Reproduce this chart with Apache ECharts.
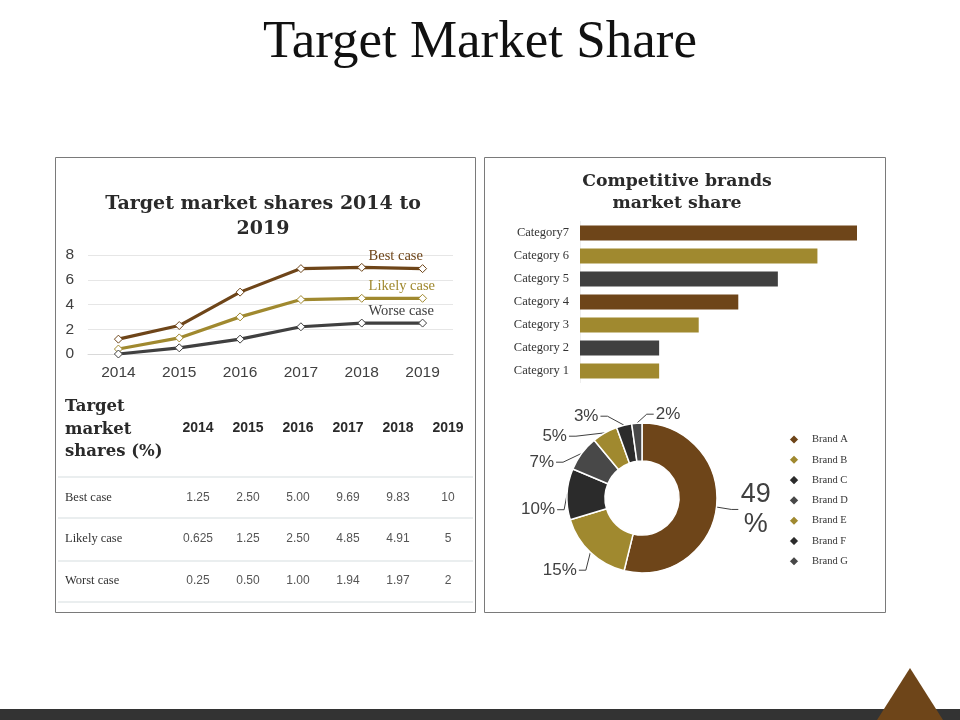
<!DOCTYPE html>
<html><head><meta charset="utf-8">
<script src="https://cdn.jsdelivr.net/npm/echarts@6/dist/echarts.min.js"></script>
<style>html,body{margin:0;padding:0;background:#fff}#c{width:960px;height:720px}</style>
</head><body><div id="c"></div>
<script>
// ---- data ----
var years = ['2014', '2015', '2016', '2017', '2018', '2019'];
var bestCase = [1.2, 2.3, 5.0, 6.9, 7.0, 6.9];
var likelyCase = [0.4, 1.3, 3.0, 4.4, 4.5, 4.5];
var worseCase = [0, 0.5, 1.2, 2.2, 2.5, 2.5];
var lineNames = ['Best case', 'Likely case', 'Worse case'];

var tableTitle = ['Target', 'market', 'shares (%)'];
var tableRowNames = ['Best case', 'Likely case', 'Worst case'];
var tableBest = ['1.25', '2.50', '5.00', '9.69', '9.83', '10'];
var tableLikely = ['0.625', '1.25', '2.50', '4.85', '4.91', '5'];
var tableWorst = ['0.25', '0.50', '1.00', '1.94', '1.97', '2'];

var barCategories = ['Category 1', 'Category 2', 'Category 3', 'Category 4', 'Category 5', 'Category 6', 'Category7'];
var barValues = [2, 2, 3, 4, 5, 6, 7];

var brands = ['Brand A', 'Brand B', 'Brand C', 'Brand D', 'Brand E', 'Brand F', 'Brand G'];
var brandShares = [49, 15, 10, 7, 5, 3, 2];

// ---- styles ----
var BROWN = '#6E4519', GOLD = '#A0892F', DARK = '#404040';
var lineColors = [BROWN, GOLD, DARK];
var barColors = [GOLD, DARK, GOLD, BROWN, DARK, GOLD, BROWN];
var pieColors = [BROWN, GOLD, '#2B2B2B', '#484848', GOLD, '#2B2B2B', '#484848'];
// label nudges (dx, dy) for pie labels, per slice
var pieLabelShift = [[-7, 0], [5, 12], [4, 16], [-1, -10], [3, -17], [18, -18], [57, -1]];
var BSERIF = '"DejaVu Serif", serif';
var TSERIF = '"Liberation Serif", serif';
var SANS = '"Liberation Sans", Arial, sans-serif';

var chart = echarts.init(document.getElementById('c'), null, {renderer: 'canvas'});

var graphics = [];
graphics.push({type: 'text', left: 'center', top: 17, style: {text: 'Target Market Share', font: '53px ' + TSERIF, fill: '#111'}});
graphics.push({type: 'rect', shape: {x: 55.5, y: 157.5, width: 420, height: 455}, style: {fill: 'none', stroke: '#7a7a7a', lineWidth: 1}});
graphics.push({type: 'rect', shape: {x: 484.5, y: 157.5, width: 401, height: 455}, style: {fill: 'none', stroke: '#7a7a7a', lineWidth: 1}});
graphics.push({type: 'rect', shape: {x: 0, y: 709, width: 960, height: 11}, style: {fill: '#333333'}});
graphics.push({type: 'polygon', shape: {points: [[910, 668], [943, 720], [877, 720]]}, style: {fill: BROWN}});

// table
tableTitle.forEach(function (t, i) {
  graphics.push({type: 'text', x: 65, y: 407 + i * 22.5, style: {text: t, font: 'bold 16.5px ' + BSERIF, fill: '#2a2a2a', textVerticalAlign: 'middle'}});
});
var colX = [198, 248, 298, 348, 398, 448];
years.forEach(function (y, i) {
  graphics.push({type: 'text', x: colX[i], y: 428, style: {text: y, font: 'bold 14px ' + SANS, fill: '#2a2a2a', textAlign: 'center', textVerticalAlign: 'middle'}});
});
[477, 518, 561, 602].forEach(function (yy) {
  graphics.push({type: 'line', shape: {x1: 58, y1: yy, x2: 473, y2: yy}, style: {stroke: '#e3e8ea', lineWidth: 1.5}});
});
var tableRows = [tableBest, tableLikely, tableWorst];
var rowY = [498, 539, 581];
tableRowNames.forEach(function (n, r) {
  graphics.push({type: 'text', x: 65, y: rowY[r], style: {text: n, font: '12.5px ' + TSERIF, fill: '#333', textVerticalAlign: 'middle'}});
  tableRows[r].forEach(function (v, i) {
    graphics.push({type: 'text', x: colX[i], y: rowY[r], style: {text: v, font: '12px ' + SANS, fill: '#555', textAlign: 'center', textVerticalAlign: 'middle'}});
  });
});

function lineSeries(name, data, color) {
  return {
    type: 'line', name: name, xAxisIndex: 0, yAxisIndex: 0,
    data: data.map(function (v, i) {
      if (i === data.length - 1) {
        return {value: v, label: {show: true, formatter: name, position: 'top', align: 'left', offset: [-54, 5], color: color, fontFamily: TSERIF, fontSize: 14.5}};
      }
      return v;
    }),
    symbol: 'diamond', symbolSize: 8,
    lineStyle: {color: color, width: 3.2},
    itemStyle: {color: '#fff', borderColor: color, borderWidth: 1},
    emphasis: {disabled: true}, z: 3
  };
}

var option = {
  animation: false,
  backgroundColor: '#fff',
  title: [
    {text: 'Target market shares 2014 to\n2019', left: 258, top: 187, textAlign: 'center',
      textStyle: {fontFamily: BSERIF, fontWeight: 'bold', fontSize: 19, color: '#2a2a2a', lineHeight: 25}},
    {text: 'Competitive brands\nmarket share', left: 672, top: 166, textAlign: 'center',
      textStyle: {fontFamily: BSERIF, fontWeight: 'bold', fontSize: 17.3, color: '#2a2a2a', lineHeight: 22}}
  ],
  grid: [
    {left: 88, top: 255, width: 365, height: 99},
    {left: 580, top: 221.5, width: 277, height: 161}
  ],
  xAxis: [
    {type: 'category', gridIndex: 0, data: years, boundaryGap: true,
      axisLine: {show: true, lineStyle: {color: '#d9d9d9'}}, axisTick: {show: false},
      axisLabel: {color: '#404040', fontFamily: SANS, fontSize: 15.5, margin: 11}},
    {type: 'value', gridIndex: 1, min: 0, max: 7, show: false}
  ],
  yAxis: [
    {type: 'value', gridIndex: 0, min: 0, max: 8, interval: 2,
      axisLine: {show: false}, axisTick: {show: false},
      splitLine: {lineStyle: {color: '#e6e6e6'}},
      axisLabel: {color: '#404040', fontFamily: SANS, fontSize: 15.5, margin: 14}},
    {type: 'category', gridIndex: 1, data: barCategories,
      axisLine: {show: true, lineStyle: {color: '#eeeeee'}}, axisTick: {show: false},
      axisLabel: {color: '#333', fontFamily: TSERIF, fontSize: 12.5, margin: 11}}
  ],
  legend: {
    orient: 'vertical', left: 782.5, top: 428, itemGap: 7.3, itemWidth: 11, itemHeight: 11, icon: 'diamond',
    data: brands, textStyle: {fontFamily: TSERIF, fontSize: 10.5, color: '#333', padding: [0, 0, 0, 7.5]}
  },
  series: [
    lineSeries(lineNames[0], bestCase, lineColors[0]),
    lineSeries(lineNames[1], likelyCase, lineColors[1]),
    lineSeries(lineNames[2], worseCase, lineColors[2]),
    {
      type: 'bar', xAxisIndex: 1, yAxisIndex: 1, barWidth: 15,
      data: barValues.map(function (v, i) { return {value: v, itemStyle: {color: barColors[i]}}; }),
      emphasis: {disabled: true}
    },
    {
      type: 'pie', center: [642, 498], radius: [37, 75], startAngle: 90, clockwise: true,
      itemStyle: {borderColor: '#fff', borderWidth: 1.5},
      label: {show: true, formatter: '{c}%', color: '#404040', fontFamily: SANS, fontSize: 17},
      labelLine: {show: true, length: 8, length2: 8, lineStyle: {color: '#404040', width: 1}},
      labelLayout: function (p) {
        var s = pieLabelShift[p.dataIndex];
        var r = p.labelRect;
        var pts = p.labelLinePoints;
        if (!pts) { return {dx: s[0], dy: s[1]}; }
        var nx = r.x + s[0], ny = r.y + s[1];
        var a = pts[0];
        var right = nx > a[0];
        var cy = ny + r.height / 2;
        var end = right ? [nx - 2, cy] : [nx + r.width + 2, cy];
        var mid = [end[0] + (right ? -7 : 7), cy];
        return {dx: s[0], dy: s[1], labelLinePoints: [a, mid, end]};
      },
      emphasis: {disabled: true},
      data: brandShares.map(function (v, i) {
        var d = {name: brands[i], value: v, itemStyle: {color: pieColors[i]}};
        if (i === 0) {
          d.label = {formatter: '{n|{c}}\n{n|%}', rich: {n: {fontSize: 27, lineHeight: 30, width: 31, align: 'center', color: '#404040', fontFamily: SANS}}};
          d.labelLine = {length: 20, length2: 6};
        }
        return d;
      })
    }
  ],
  graphic: graphics
};
chart.setOption(option);
</script></body></html>
